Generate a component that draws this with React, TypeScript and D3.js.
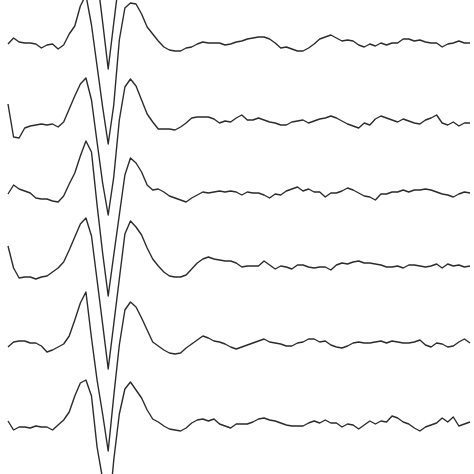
import * as d3 from "d3";

const WIDTH = 474;
const HEIGHT = 474;

// seven stacked recording channels, one sample every ~0.1 ms, spike trough at sample 18
// channel baseline offsets (µV), top to bottom
const channelBaselines = [33, -45, -125, -190, -275, -345, -427];

// channel 0 sits mostly above the frame, only its trough shows
const channel0Start = 14;
const channel0 = [45, 27, -10, -55, -102, -56, -11, 32, 45];

const channel1 = [
  1, 7, 3, 2, 2, 1, -3, 0, 1, -4,
  0, 11, 19, 39, 50, 20, -21, -62, -99, -60,
  5, 37, 42, 41, 31, 18, 11, 4, -2, -5,
  -6, -6, -3, -2, 1, 3, 2, 2, 2, 0,
  1, 3, 4, 6, 7, 8, 8, 6, 2, -3,
  -2, -4, -6, -6, -3, 1, 6, 8, 10, 7,
  4, 5, 4, 0, -2, 1, -1, 2, 0, 2,
  2, 6, 6, 4, 5, 3, 2, 2, -2, 1,
  2, 4, 2, 2,
];

const channel2 = [
  21, -12, -13, -3, -1, 0, 1, 0, 1, -2,
  3, 16, 29, 41, 47, 25, -17, -58, -90, -52,
  5, 38, 46, 39, 25, 11, 3, -4, -4, -4,
  -5, -2, 2, 7, 8, 8, 8, 6, 2, 4,
  3, 7, 10, 5, 5, 7, 5, 3, 2, 0,
  0, 3, 4, 5, 2, 4, 6, 7, 9, 7,
  4, 1, -1, -3, 2, 0, 6, 9, 7, 5,
  3, 6, 4, 2, 1, 5, 7, 10, 2, 0,
  3, -1, 2, 2,
];

const channel3 = [
  -4, 5, 1, -1, -3, -8, -9, -9, -11, -12,
  -6, 6, 17, 34, 49, 38, -15, -63, -106, -65,
  -25, 15, 32, 27, 18, 5, 0, 1, -2, -6,
  -8, -10, -12, -8, -5, -2, -3, -2, -1, -2,
  -1, -2, -5, -2, -3, -3, -5, -8, -4, -5,
  -1, 1, 3, -1, 1, -2, -2, -7, -3, -3,
  -1, 2, 0, -3, -6, -7, -10, -4, -4, -2,
  -2, 0, -2, 0, 0, 1, 0, -2, -4, -5,
  -7, -4, -2, -3,
];

const channel4 = [
  29, 7, -3, -2, -2, -4, -2, -1, 3, 7,
  13, 25, 38, 51, 57, 39, -5, -49, -94, -49,
  -4, 41, 54, 48, 40, 27, 16, 9, 3, -1,
  -2, -2, 0, 6, 12, 16, 18, 16, 15, 14,
  14, 12, 8, 9, 9, 9, 14, 10, 6, 9,
  8, 6, 10, 10, 8, 7, 8, 8, 5, 10,
  12, 11, 13, 14, 12, 12, 11, 10, 8, 8,
  9, 7, 10, 10, 9, 8, 9, 11, 7, 11,
  9, 10, 8, 9,
];

const channel5 = [
  -2, 3, 4, 4, 2, 2, -1, -7, -5, -2,
  1, 9, 25, 42, 53, 7, -35, -69, -106, -51,
  0, 35, 43, 38, 27, 15, 3, -1, -5, -8,
  -9, -8, -3, 1, 5, 9, 7, 4, 3, 1,
  -2, -4, -2, 0, 2, 4, 6, 3, 2, 1,
  -1, -1, 2, 3, 6, 6, 3, 4, 0, -2,
  -3, -1, 2, 3, 2, 2, 3, 4, 2, 4,
  3, 2, 2, 3, 5, 0, -2, 2, 1, -2,
  -1, 3, 6, 2,
];

const channel6 = [
  6, -3, 0, 0, -1, 1, 0, 0, -3, 2,
  7, 15, 31, 44, 47, 31, -20, -52, -93, -33,
  13, 38, 45, 37, 29, 17, 8, 5, 1, -2,
  -3, -4, -1, 4, 7, 8, 6, 8, 3, 1,
  -1, 3, 3, 3, 5, 8, 9, 7, 6, 4,
  2, 1, 1, 1, 4, 6, 4, 7, 4, 4,
  0, 3, 2, -2, 2, 6, 3, 6, 5, 11,
  9, 5, 3, -1, -4, 0, 2, 4, 9, 5,
  10, 1, 3, 5,
];

const channels = [
  { start: channel0Start, values: channel0 },
  { start: 0, values: channel1 },
  { start: 0, values: channel2 },
  { start: 0, values: channel3 },
  { start: 0, values: channel4 },
  { start: 0, values: channel5 },
  { start: 0, values: channel6 },
];

const sampleCount = channel1.length;

const x = d3.scaleLinear().domain([0, sampleCount - 1]).range([8, 470]);
const y = d3.scaleLinear().domain([0, -HEIGHT]).range([0, HEIGHT]);

export default function App() {
  return (
    <svg
      width={WIDTH}
      height={HEIGHT}
      style={{ position: "fixed", left: 0, top: 0, background: "#fff" }}
    >
      {channels.map((ch, k) => {
        const base = channelBaselines[k];
        const path = d3
          .line<number>()
          .x((_, i) => x(ch.start + i))
          .y((v) => y(base + v))(ch.values);
        return (
          <path
            key={k}
            d={path ?? ""}
            fill="none"
            stroke="#2b2b2b"
            strokeWidth={1.4}
            strokeLinejoin="round"
          />
        );
      })}
    </svg>
  );
}
